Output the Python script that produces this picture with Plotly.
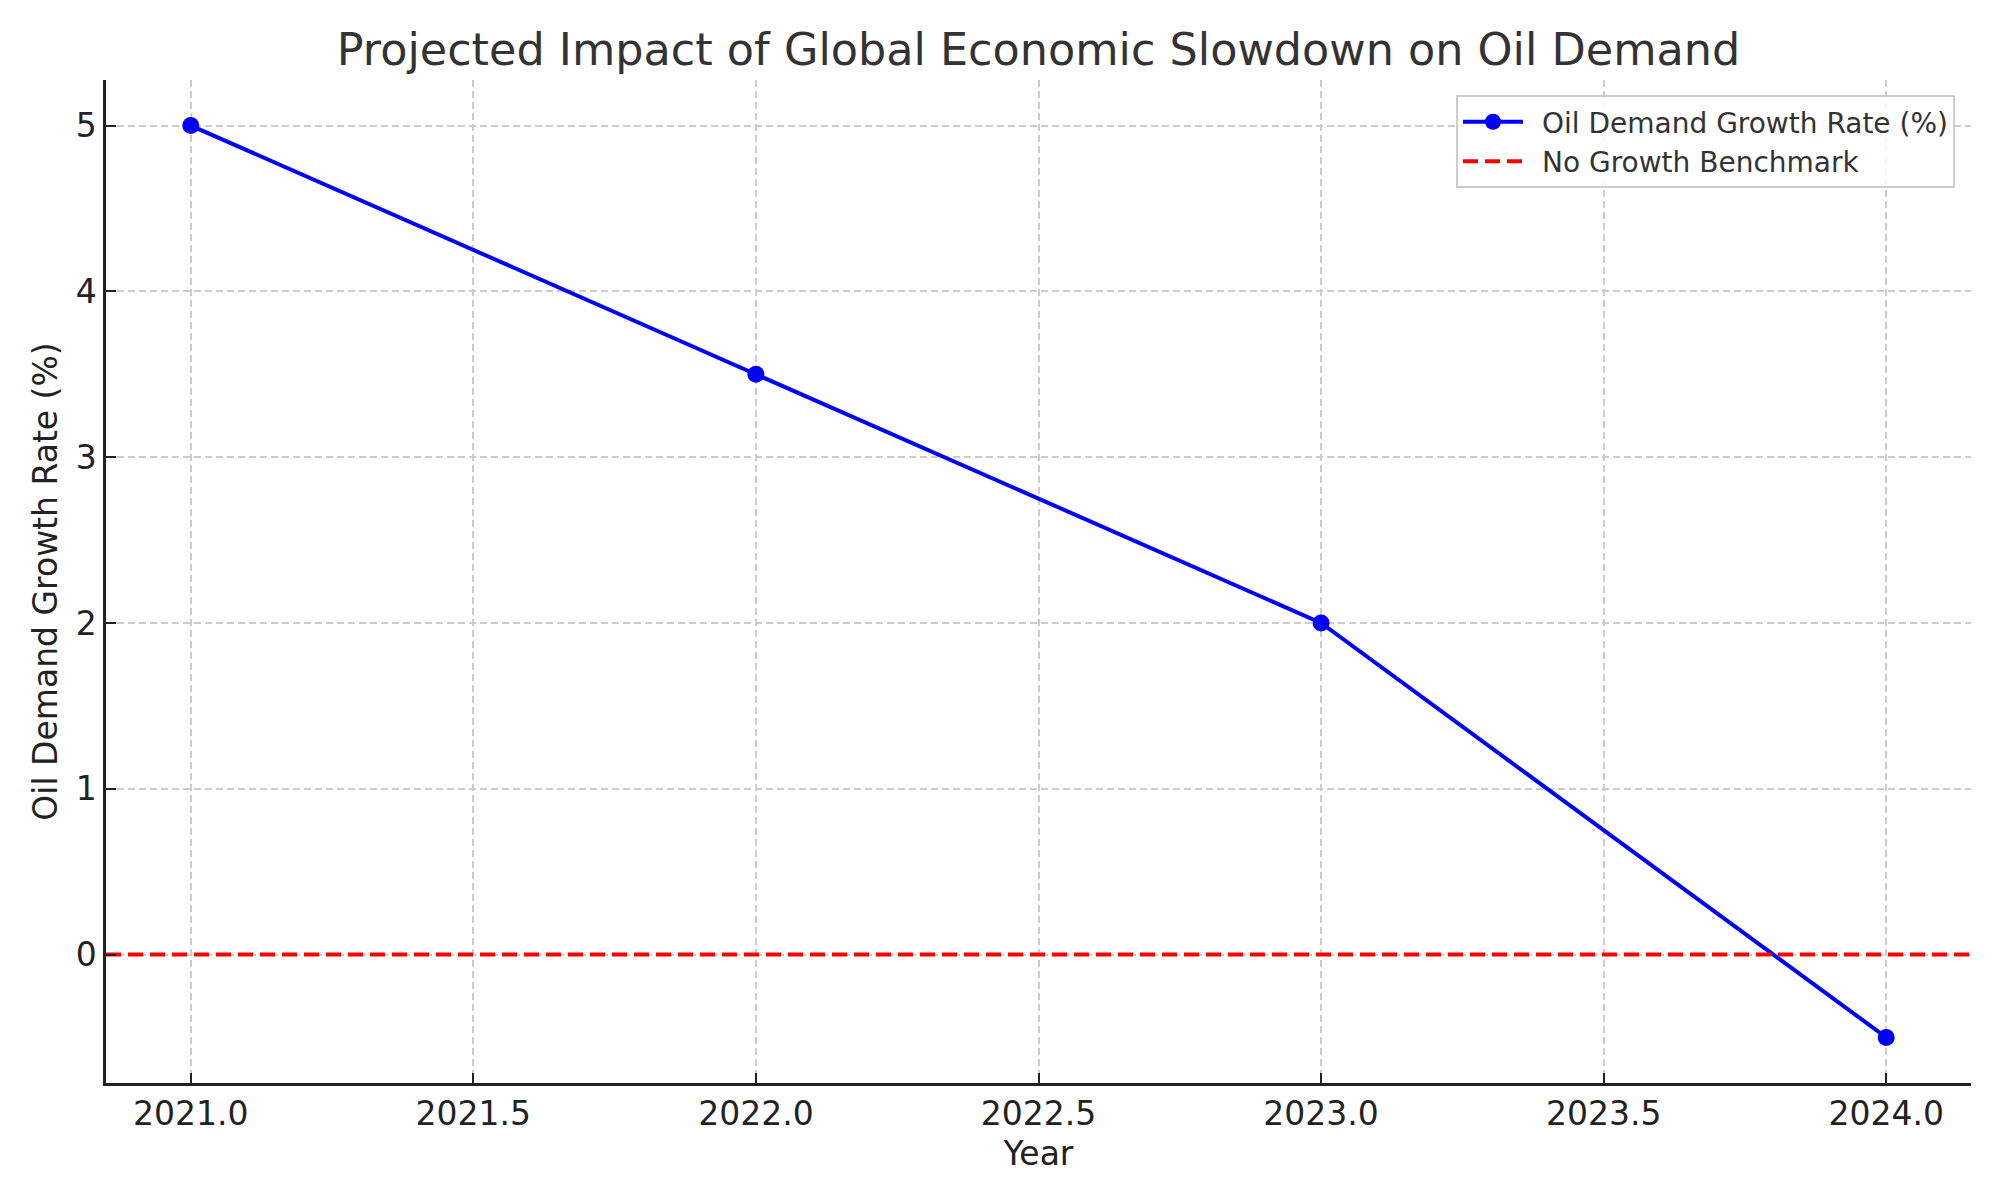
import plotly.graph_objects as go

years = [2021, 2022, 2023, 2024]
growth = [5.0, 3.5, 2.0, -0.5]
benchmark_value = 0
series_name = "Oil Demand Growth Rate (%)"
bench_name = "No Growth Benchmark"
title = "Projected Impact of Global Economic Slowdown on Oil Demand"
x_title = "Year"
y_title = "Oil Demand Growth Rate (%)"
x_ticks = [2021.0, 2021.5, 2022.0, 2022.5, 2023.0, 2023.5, 2024.0]
y_ticks = [0, 1, 2, 3, 4, 5]

xspan = max(years) - min(years)
xr = [min(years) - 0.05 * xspan, max(years) + 0.05 * xspan]
yspan = max(growth) - min(growth)
yr = [min(growth) - 0.05 * yspan, max(growth) + 0.05 * yspan]

pad = "\u2002"  # small gap between legend symbol and label

fig = go.Figure()
fig.add_trace(go.Scatter(
    x=years, y=growth, mode="lines+markers", name=pad + series_name,
    line=dict(color="#0000ff", width=4),
    marker=dict(color="#0000ff", size=17),
    cliponaxis=False,
))
fig.add_trace(go.Scatter(
    x=xr, y=[benchmark_value, benchmark_value], mode="lines", name=pad + bench_name,
    line=dict(color="#ff0000", width=4, dash="15px,7px"),
))

grid = dict(showgrid=True, gridcolor="#cccccc", gridwidth=1.5, griddash="7px,4px")
fig.update_layout(
    width=2000, height=1200,
    margin=dict(l=106, r=29, t=80, b=117),
    paper_bgcolor="white", plot_bgcolor="white",
    font=dict(family="DejaVu Sans", color="#222222"),
    title=dict(text=title, x=0.5, xref="paper", xanchor="center", y=1 - 49 / 1200, yanchor="middle",
               font=dict(size=44.5, color="#333333")),
    showlegend=True,
    legend=dict(x=1 - 16 / 1865, xanchor="right", y=0.985, yanchor="top",
                bgcolor="rgba(255,255,255,0.85)", bordercolor="#cccccc", borderwidth=2,
                font=dict(size=28, color="#333333"), itemwidth=60,
                tracegroupgap=6),
    xaxis=dict(range=xr, tickvals=x_ticks, ticktext=[f"{v:.1f}" for v in x_ticks],
               ticks="inside", ticklen=10, tickwidth=2, tickcolor="#222222",
               showline=True, linecolor="#222222", linewidth=2.5, mirror=False,
               zeroline=False, tickfont=dict(size=33, color="#222222"),
               title=dict(text=x_title, font=dict(size=33, color="#222222"), standoff=10),
               **grid),
    yaxis=dict(range=yr, tickvals=y_ticks,
               ticks="inside", ticklen=10, tickwidth=2, tickcolor="#222222",
               showline=True, linecolor="#222222", linewidth=2.5, mirror=False,
               zeroline=False, tickfont=dict(size=33, color="#222222"),
               title=dict(text=y_title, font=dict(size=33, color="#222222"), standoff=9),
               **grid),
)
fig.write_html("out.html")
